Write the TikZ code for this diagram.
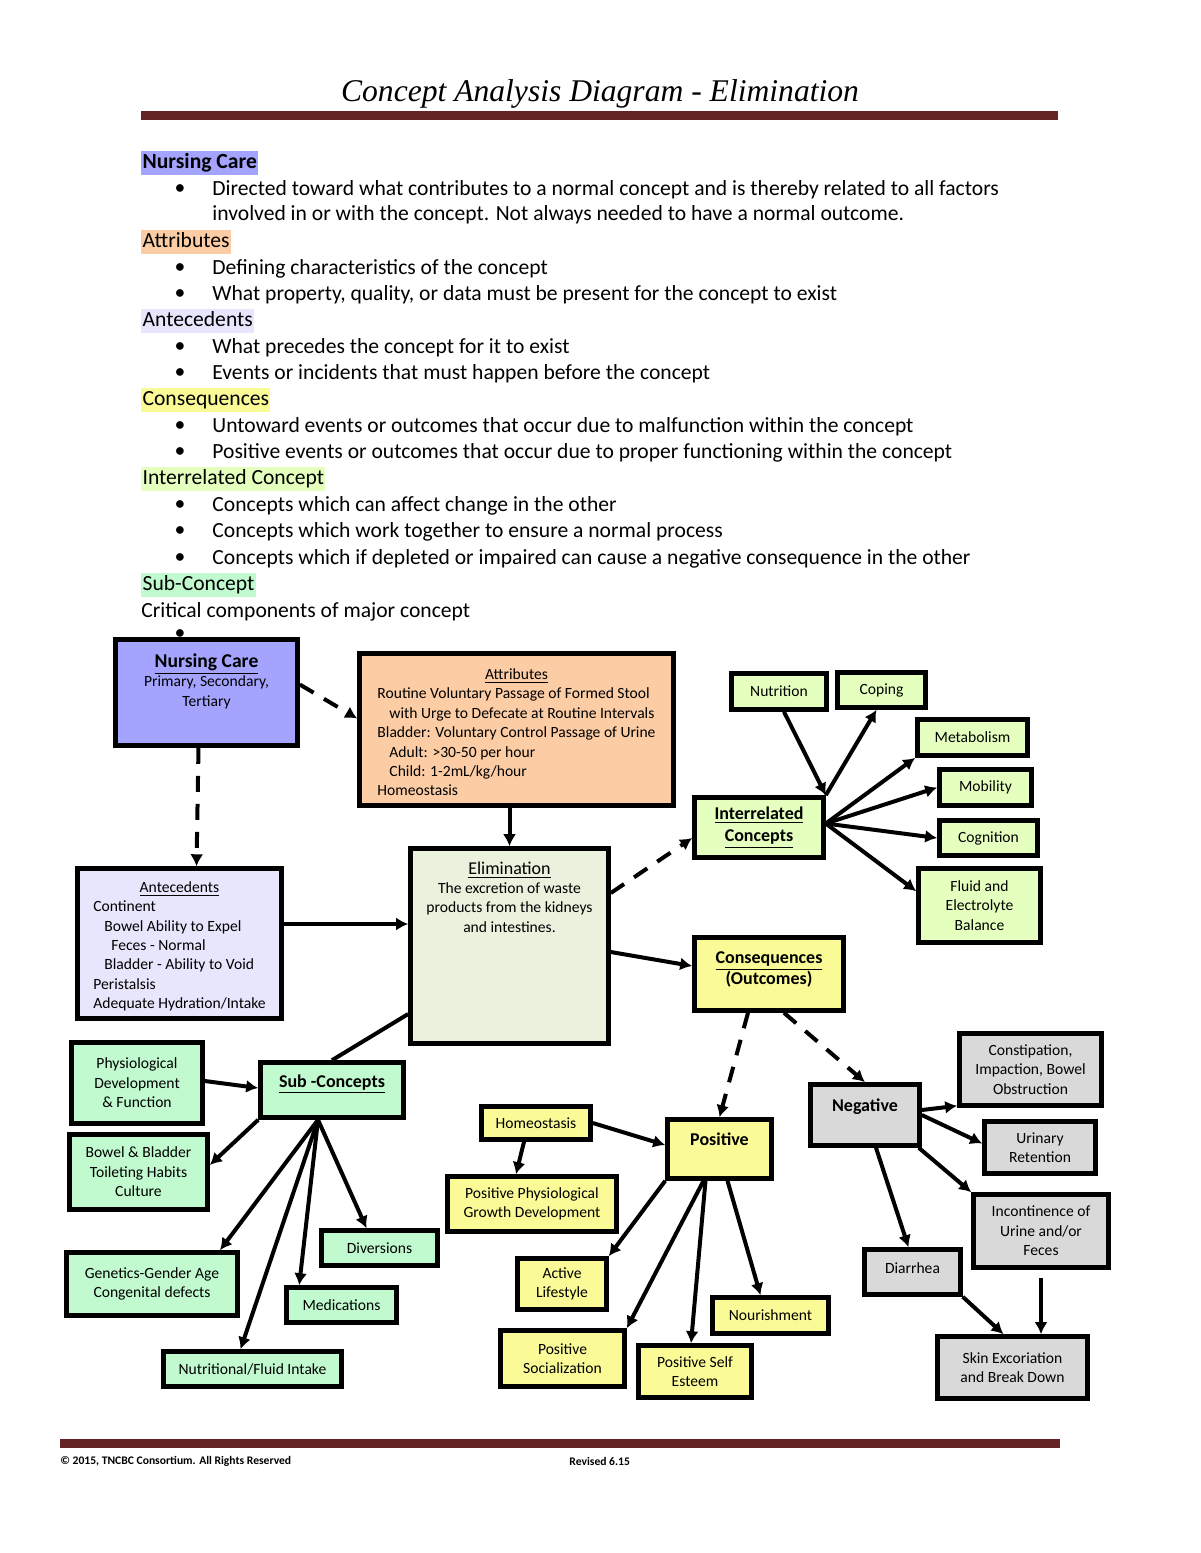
\documentclass[tikz,border=0pt]{standalone}
\usepackage{fontspec}
\setmainfont{Carlito}
\newfontfamily\titlefont{Liberation Serif}
\usetikzlibrary{arrows.meta, positioning, calc}

\definecolor{barred}{RGB}{99,36,35}
\definecolor{ncblue}{RGB}{164,164,255}
\definecolor{attrpeach}{RGB}{252,204,164}
\definecolor{antelav}{RGB}{232,230,252}
\definecolor{elimgreen}{RGB}{234,241,221}
\definecolor{intgreen}{RGB}{228,255,190}
\definecolor{conyellow}{RGB}{250,250,150}
\definecolor{submint}{RGB}{192,250,206}
\definecolor{neggray}{RGB}{217,217,217}

\tikzstyle{block} = [draw, rectangle, line width=2.3pt, inner sep=2pt, align=center,
 font=\fontsize{7.8}{9.7}\selectfont]
\tikzstyle{heading} = [inner sep=0pt, align=center, font=\fontsize{7.8}{9.7}\selectfont]
\tikzstyle{para} = [anchor=west, inner sep=0pt, text height=8.4pt, text depth=2.6pt, yshift=-0.9pt,
 font=\fontsize{10.8}{13}\selectfont]
\tikzstyle{hilite} = [para, inner xsep=0.6pt, inner ysep=0.4pt]
\tikzstyle{bul} = [inner sep=0pt, yshift=-0.9pt, font=\fontsize{10.8}{13}\selectfont]
\tikzstyle{arrow} = [line width=2pt, -{Latex[length=6pt,width=6.5pt]}]
\tikzstyle{dasharrow} = [arrow, dash pattern=on 8pt off 6pt]
\tikzstyle{line} = [line width=2pt]
\tikzset{sz/.style 2 args={minimum width=#1*0.5pt, minimum height=#2*0.5pt}}

\begin{document}
\begin{tikzpicture}[x=0.5pt, y=-0.5pt]
 	\useasboundingbox (0,0) rectangle (1200,1553);
 	
 	% title
 	\node [inner sep=0pt, font=\titlefont\itshape\fontsize{15.8}{18}\selectfont] (title) at (600,94) {Concept Analysis Diagram - Elimination};
 	\fill [barred] (141,111) rectangle (1058,120);
 	
 	% key
 	\node [hilite, fill=ncblue, font=\fontsize{10.8}{13}\selectfont\bfseries] (hnc) at (141,161) {Nursing Care};
 	\node [bul] (bnc) at (180,188) {\textbullet};
 	\node [para] (tnc1) at (212,188) {Directed toward what contributes to a normal concept and is thereby related to all factors};
 	\node [para] (tnc2) at (212,213) {involved in or with the concept. Not always needed to have a normal outcome.};
 	\node [hilite, fill=attrpeach] (hat) at (141,240) {Attributes};
 	\node [bul] (bat1) at (180,267) {\textbullet};
 	\node [para] (tat1) at (212,267) {Defining characteristics of the concept};
 	\node [bul] (bat2) at (180,293) {\textbullet};
 	\node [para] (tat2) at (212,293) {What property, quality, or data must be present for the concept to exist};
 	\node [hilite, fill=antelav] (han) at (141,319) {Antecedents};
 	\node [bul] (ban1) at (180,346) {\textbullet};
 	\node [para] (tan1) at (212,346) {What precedes the concept for it to exist};
 	\node [bul] (ban2) at (180,372) {\textbullet};
 	\node [para] (tan2) at (212,372) {Events or incidents that must happen before the concept};
 	\node [hilite, fill=conyellow] (hco) at (141,398) {Consequences};
 	\node [bul] (bco1) at (180,425) {\textbullet};
 	\node [para] (tco1) at (212,425) {Untoward events or outcomes that occur due to malfunction within the concept};
 	\node [bul] (bco2) at (180,451) {\textbullet};
 	\node [para] (tco2) at (212,451) {Positive events or outcomes that occur due to proper functioning within the concept};
 	\node [hilite, fill=intgreen] (hin) at (141,477) {Interrelated Concept};
 	\node [bul] (bin1) at (180,504) {\textbullet};
 	\node [para] (tin1) at (212,504) {Concepts which can affect change in the other};
 	\node [bul] (bin2) at (180,530) {\textbullet};
 	\node [para] (tin2) at (212,530) {Concepts which work together to ensure a normal process};
 	\node [bul] (bin3) at (180,557) {\textbullet};
 	\node [para] (tin3) at (212,557) {Concepts which if depleted or impaired can cause a negative consequence in the other};
 	\node [hilite, fill=submint] (hsu) at (141,583) {Sub-Concept};
 	\node [para] (tsu) at (141,610) {Critical components of major concept};
 	\node [bul] (bsu) at (180,633) {\textbullet};
 	
 	% upper blocks
 	\node [block, fill=ncblue, sz={182}{106}] (nc) at (206.5,692.5) {};
 	\node [heading, below=8pt of nc.north] (nct) {{\fontsize{9.8}{12}\selectfont\bfseries\underline{Nursing Care}}\\Primary, Secondary,\\Tertiary};
 	\node [block, fill=attrpeach, sz={314}{144}] (attr) at (516.5,729.5) {\begin{tabular}{@{}l@{}}
 		\multicolumn{1}{@{}c@{}}{\rule{0pt}{11pt}\underline{Attributes}}\\
 		Routine Voluntary Passage of Formed Stool\\
 		\hspace*{6pt}with Urge to Defecate at Routine Intervals\\
 		Bladder: Voluntary Control Passage of Urine\\
 		\hspace*{6pt}Adult: >30-50 per hour\\
 		\hspace*{6pt}Child: 1-2mL/kg/hour\\
 		Homeostasis\end{tabular}};
 	\node [block, fill=antelav, sz={204}{148}] (ante) at (179.5,943.5) {\begin{tabular}{@{}l@{}}
 		\multicolumn{1}{@{}c@{}}{\rule{0pt}{9.8pt}\underline{Antecedents}}\\
 		Continent\\
 		\hspace*{5.5pt}Bowel Ability to Expel\\
 		\hspace*{9pt}Feces - Normal\\
 		\hspace*{5.5pt}Bladder - Ability to Void\\
 		Peristalsis\\
 		Adequate Hydration/Intake\end{tabular}};
 	\node [block, fill=elimgreen, sz={198}{195}] (elim) at (509.5,946) {};
 	\node [heading, below=7.5pt of elim.north] (elimt) {{\fontsize{9}{11}\selectfont\underline{Elimination}}\\The excretion of waste\\products from the kidneys\\and intestines.};
 	
 	% interrelated concepts
 	\node [block, fill=intgreen, sz={129}{60}, font=\fontsize{9}{11}\selectfont\bfseries] (inter) at (759,827.5) {\underline{Interrelated}\\\underline{Concepts}};
 	\node [block, fill=intgreen, sz={95}{36}] (nutr) at (779,691.5) {Nutrition};
 	\node [block, fill=intgreen, sz={88}{35}] (coping) at (881.5,690) {Coping};
 	\node [block, fill=intgreen, sz={110}{36}] (metab) at (972.5,737.5) {Metabolism};
 	\node [block, fill=intgreen, sz={92}{36}] (mob) at (985.5,787.5) {Mobility};
 	\node [block, fill=intgreen, sz={98}{35}] (cogn) at (988.5,838) {Cognition};
 	\node [block, fill=intgreen, sz={122}{74}] (fluid) at (979.5,905.5) {Fluid and\\Electrolyte\\Balance};
 	
 	% consequences
 	\node [block, fill=conyellow, sz={149}{73}] (conseq) at (769,974) {};
 	\node [heading, below=8pt of conseq.north, font=\fontsize{9}{10.5}\selectfont\bfseries] (conseqt) {\underline{Consequences}\\(Outcomes)};
 	\node [block, fill=conyellow, sz={104}{59}] (pos) at (719.5,1149) {};
 	\node [heading, below=7.5pt of pos.north, font=\fontsize{9}{11}\selectfont\bfseries] (post) {Positive};
 	\node [block, fill=conyellow, sz={109}{33}] (homeo) at (536,1123) {Homeostasis};
 	\node [block, fill=conyellow, sz={169}{55}] (ppgd) at (532,1204) {Positive Physiological\\Growth Development};
 	\node [block, fill=conyellow, sz={89}{51}] (active) at (562,1284) {Active\\Lifestyle};
 	\node [block, fill=conyellow, sz={124}{56}] (possoc) at (562.5,1358.5) {Positive\\Socialization};
 	\node [block, fill=conyellow, sz={113}{52}] (esteem) at (695,1371.5) {Positive Self\\Esteem};
 	\node [block, fill=conyellow, sz={116}{36}] (nourish) at (770.5,1315.5) {Nourishment};
 	\node [block, fill=neggray, sz={109}{61}] (neg) at (865,1115) {};
 	\node [heading, below=8pt of neg.north, font=\fontsize{9}{11}\selectfont\bfseries] (negt) {Negative};
 	\node [block, fill=neggray, sz={142}{72}] (const) at (1030.5,1069.5) {Constipation,\\Impaction, Bowel\\Obstruction};
 	\node [block, fill=neggray, sz={111}{52}] (urin) at (1040,1147.5) {Urinary\\Retention};
 	\node [block, fill=neggray, sz={135}{73}] (incont) at (1041,1231) {Incontinence of\\Urine and/or\\Feces};
 	\node [block, fill=neggray, sz={96}{45}] (diarr) at (912.5,1272) {};
 	\node [heading, below=7.5pt of diarr.north] (diarrt) {Diarrhea};
 	\node [block, fill=neggray, sz={150}{62}] (skin) at (1012.5,1367.5) {Skin Excoriation\\and Break Down};
 	
 	% sub-concepts
 	\node [block, fill=submint, sz={143}{55}] (sub) at (332,1090) {};
 	\node [heading, below=7pt of sub.north, font=\fontsize{9}{11}\selectfont\bfseries] (subt) {\underline{Sub -Concepts}};
 	\node [block, fill=submint, sz={131}{81}] (phys) at (137,1083) {Physiological\\Development\\\& Function};
 	\node [block, fill=submint, sz={138}{75}] (bowel) at (138.5,1172) {Bowel \& Bladder\\Toileting Habits\\Culture};
 	\node [block, fill=submint, sz={171}{63}] (genet) at (152,1284) {Genetics-Gender Age\\Congenital defects};
 	\node [block, fill=submint, sz={116}{35}] (divers) at (379.5,1248) {Diversions};
 	\node [block, fill=submint, sz={110}{35}] (medic) at (341.5,1305) {Medications};
 	\node [block, fill=submint, sz={178}{35}] (nutflu) at (252.5,1369) {Nutritional/Fluid Intake};
 	
 	% connectors
 	\draw [dasharrow] ($(nc.east)+(0,-8)$) -- ($(attr.west)+(0,-11)$);
 	\draw [dasharrow] ($(nc.south)+(-8,0)$) -- ($(ante.north)+(17,0)$);
 	\draw [arrow] ($(attr.south)+(-7,0)$) -- (elim.north);
 	\draw [arrow] ($(ante.east)+(0,-19.5)$) -- ($(elim.west)+(0,-22)$);
 	\draw [dasharrow] ($(elim.east)+(0,-53)$) -- ($(inter.west)+(0,10.5)$);
 	\draw [arrow] ($(elim.east)+(0,6)$) -- ($(conseq.west)+(0,-8)$);
 	\draw [line] ($(elim.west)+(0,68)$) -- (sub.north);
 	
 	\draw [arrow] ($(nutr.south)+(5,0)$) -- (inter.north east);
 	\draw [arrow] (inter.north east) -- ($(coping.south)+(-5,0)$);
 	\draw [arrow] ($(inter.east)+(0,-4)$) -- (metab.south west);
 	\draw [arrow] ($(inter.east)+(0,-4)$) -- (mob.west);
 	\draw [arrow] ($(inter.east)+(0,-4)$) -- (cogn.west);
 	\draw [arrow] ($(inter.east)+(0,-4)$) -- ($(fluid.north west)+(0,25)$);
 	
 	\draw [dasharrow] ($(conseq.south)+(-21,0)$) -- (pos.north);
 	\draw [dasharrow] ($(conseq.south)+(15,0)$) -- (neg.north);
 	\draw [arrow] (homeo.east) -- ($(pos.west)+(0,-4)$);
 	\draw [arrow] ($(homeo.south)+(-12,0)$) -- ($(ppgd.north)+(-16,0)$);
 	\draw [arrow] (pos.south west) -- (active.north east);
 	\draw [arrow] ($(pos.south)+(-16,0)$) -- (possoc.north east);
 	\draw [arrow] ($(pos.south)+(-14,0)$) -- ($(esteem.north)+(-4,0)$);
 	\draw [arrow] ($(pos.south)+(8,0)$) -- ($(nourish.north)+(-10,0)$);
 	\draw [arrow] ($(neg.east)+(0,-5)$) -- ($(const.south west)+(0,-2)$);
 	\draw [arrow] (neg.east) -- ($(urin.west)+(0,-4)$);
 	\draw [arrow] ($(neg.south east)+(-3,0)$) -- (incont.north west);
 	\draw [arrow] ($(neg.south)+(11,0)$) -- ($(diarr.north)+(-4,0)$);
 	\draw [arrow] (diarr.south east) -- ($(skin.north)+(-9,0)$);
 	\draw [arrow] ($(incont.south)+(0,8)$) -- ($(skin.north)+(28.5,0)$);
 	
 	\draw [arrow] ($(phys.east)+(0,-2)$) -- ($(sub.west)+(0,-2)$);
 	\draw [arrow] (sub.south west) -- ($(bowel.east)+(0,-7)$);
 	\draw [arrow] ($(sub.south)+(-14,0)$) -- ($(genet.north)+(68,0)$);
 	\draw [arrow] ($(sub.south)+(-14,0)$) -- ($(nutflu.north)+(-12,0)$);
 	\draw [arrow] ($(sub.south)+(-14,0)$) -- ($(medic.north west)+(15,0)$);
 	\draw [arrow] ($(sub.south)+(-14,0)$) -- ($(divers.north)+(-13,0)$);
 	
 	% footer
 	\fill [barred] (60,1439) rectangle (1060,1448);
 	\node [anchor=west, inner sep=0pt, font=\fontsize{5.8}{6.5}\selectfont\bfseries] (copy) at (60,1461) {\textcopyright{} 2015, TNCBC Consortium. All Rights Reserved};
 	\node [anchor=west, inner sep=0pt, font=\fontsize{5.8}{6.5}\selectfont\bfseries] (rev) at (569,1461) {Revised 6.15};
 	
\end{tikzpicture}
\end{document}
